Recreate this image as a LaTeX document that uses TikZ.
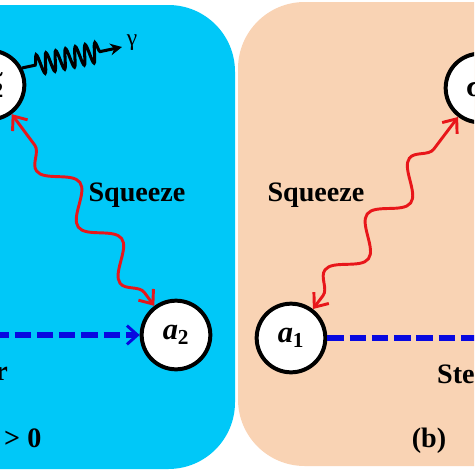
\documentclass[tikz,border=0pt]{standalone}
\usepackage{fontspec}
\setmainfont{Liberation Serif}
\usetikzlibrary{arrows.meta,decorations.pathmorphing}
\definecolor{panelblue}{HTML}{00C8F8}
\definecolor{panelpeach}{HTML}{F9D3B4}
\definecolor{squeezered}{HTML}{E8161A}
\definecolor{steerblue}{HTML}{0808E0}
\tikzset{
  mode/.style={circle,draw=black,fill=white,line width=3.4pt,
    minimum size=2.06cm,inner sep=0pt,
    font=\fontsize{26}{28}\selectfont\bfseries\itshape},
  squeeze/.style={draw=squeezered,line width=2.5pt,
    {Straight Barb[length=10pt,width=16pt,line width=2.5pt]}-{Straight Barb[length=10pt,width=16pt,line width=2.5pt]},
    decorate,decoration={snake,amplitude=0.42cm,segment length=2.1cm,
      pre length=0.5cm,post length=0.5cm}},
  steer/.style={draw=steerblue,line width=4.5pt,dash pattern=on 14pt off 5pt},
  photon/.style={draw=black,line width=2.6pt,-{Stealth[length=10pt,width=10pt]},
    decorate,decoration={snake,amplitude=0.3cm,segment length=0.3cm,
      pre length=0.4cm,post length=0.55cm}},
  label text/.style={font=\fontsize{24}{28}\selectfont\bfseries,inner sep=0pt}
}
\begin{document}
\begin{tikzpicture}[x=0.03cm,y=-0.03cm]
  \useasboundingbox (0,0) rectangle (474,474);
  \clip (0,0) rectangle (474,474);
  % panels
  \fill[panelblue,rounded corners=2cm] (-120,5) rectangle (235,469);
  \fill[panelpeach,rounded corners=2cm] (238,2) rectangle (600,466);
  % modes
  \node[mode] (s2) at (-10,85) {\upshape\~{σ}\textsubscript{2}};
  \node[mode] (a2) at (176,335) {a\textsubscript{\upshape 2}};
  \node[mode] (a1) at (291,338) {a\textsubscript{\upshape 1}};
  \node[mode] (s1) at (480,88) {\upshape\~{σ}\textsubscript{1}};
  % left panel
  \coordinate (lin) at (-30,335);
  \coordinate (gtip) at (122,47);
  \draw[photon] (s2.28) -- (gtip);
  \node[font=\fontsize{20}{22}\selectfont,inner sep=0pt,anchor=base] (gam) at (132,45) {γ};
  \draw[squeeze] (a2) -- (s2);
  \draw[steer,-{Straight Barb[length=9pt,width=16pt,line width=2.5pt]}] (lin) -- (a2);
  \node[label text,anchor=base] (sql) at (137,201) {Squeeze};
  \node[label text,anchor=base east] (stl) at (8,380) {r};
  \node[label text,anchor=base west] (cond) at (4,447) {> 0};
  % right panel
  \coordinate (rout) at (520,338);
  \draw[squeeze] (a1) -- (s1);
  \draw[steer] (a1) -- (rout);
  \node[label text,anchor=base] (sqr) at (316,201) {Squeeze};
  \node[label text,anchor=base west] (str) at (437,383) {Ste};
  \node[label text,anchor=base] (tag) at (429,447) {(b)};
\end{tikzpicture}
\end{document}
